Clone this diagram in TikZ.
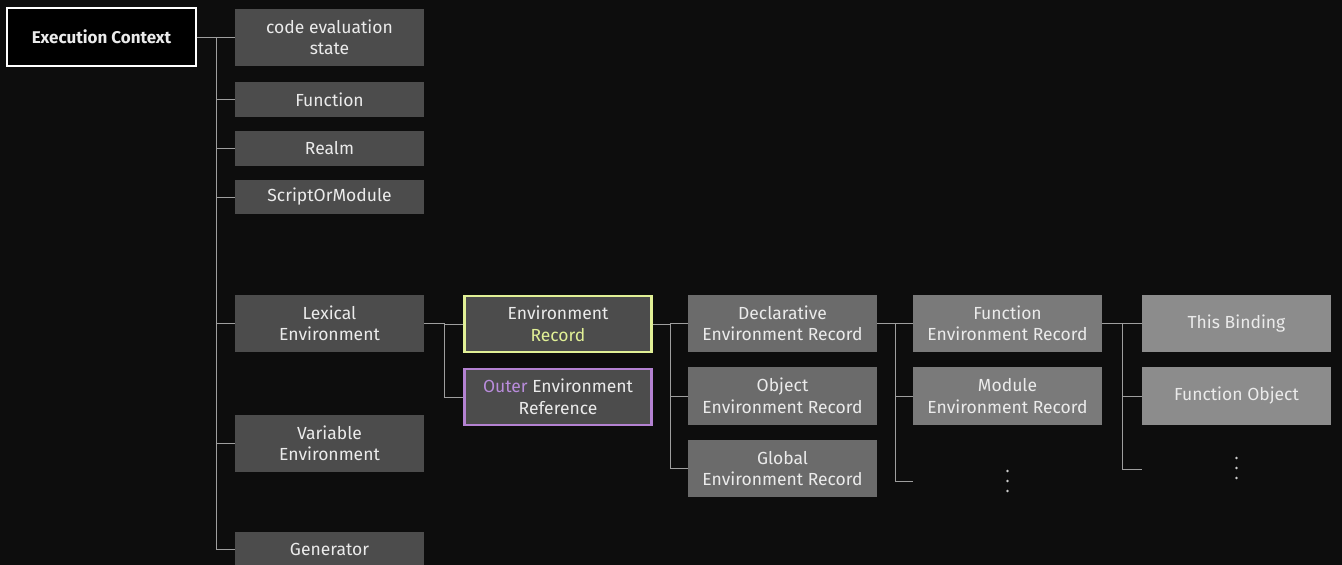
\documentclass[tikz,border=0pt]{standalone}
\usepackage{fontspec}
\setmainfont{Fira Sans}
\begin{document}
\begin{tikzpicture}[x=1pt,y=-1pt,
  bx/.style={minimum width=189pt,align=center,inner sep=0pt,font=\fontsize{17.5}{21.5}\selectfont,text=white!92!black},
  c1/.style={bx,fill=black!70},
  c3/.style={bx,fill=black!58},
  c4/.style={bx,fill=black!52},
  c5/.style={bx,fill=black!45},
  ln/.style={draw=black!38,line width=0.9pt},
  dt/.style={fill=white!80!black}]
\fill[black!95] (0,0) rectangle (1342,565);
\useasboundingbox (0,0) rectangle (1342,565);
\clip (0,0) rectangle (1342,565);
% column 0
\node[bx,draw=white,line width=1.2pt,fill=black,minimum width=189pt,minimum height=58pt,font=\fontsize{17}{21}\selectfont\bfseries] (ec) at (101.5,37) {Execution Context};
% column 1
\node[c1,minimum height=57pt] (ces) at (329.5,37.5) {code evaluation\\state};
\node[c1,minimum height=35pt] (fn) at (329.5,99.5) {Function};
\node[c1,minimum height=35pt] (realm) at (329.5,148.5) {Realm};
\node[c1,minimum height=34pt] (sm) at (329.5,197) {ScriptOrModule};
\node[c1,minimum height=57pt] (lex) at (329.5,323.5) {Lexical\\Environment};
\node[c1,minimum height=57pt] (var) at (329.5,443.5) {Variable\\Environment};
\node[c1,minimum height=34pt] (gen) at (329.5,549) {Generator};
\coordinate (t0) at (216,37);
\draw[ln] (ec.east) -- (t0) -- (216,549) -- (gen.west);
\foreach \n in {ces,fn,realm,sm,lex,var} \draw[ln] (216,0 |- \n.west) -- (\n.west);
% column 2
\node[c1,draw={rgb,255:red,225;green,240;blue,150},line width=2.2pt,minimum width=187pt,minimum height=56pt] (er) at (558,324) {Environment\\\textcolor[RGB]{225,240,150}{Record}};
\node[c1,draw={rgb,255:red,180;green,130;blue,210},line width=2.2pt,minimum width=187pt,minimum height=56pt] (oer) at (558,397) {\textcolor[RGB]{185,140,220}{Outer} Environment\\Reference};
\draw[ln] (lex.east) -- (444,0 |- lex.east) |- (oer.west);
\draw[ln] (444,0 |- er.west) -- (er.west);
% column 3
\node[c3,minimum height=57pt] (dec) at (782.5,323.5) {Declarative\\Environment Record};
\node[c3,minimum height=58pt] (obj) at (782.5,396) {Object\\Environment Record};
\node[c3,minimum height=57pt] (glo) at (782.5,468.5) {Global\\Environment Record};
\draw[ln] (er.east) -- (670,0 |- er.east) |- (glo.west);
\draw[ln] (670,0 |- dec.west) -- (dec.west);
\draw[ln] (670,0 |- obj.west) -- (obj.west);
% column 4
\node[c4,minimum height=57pt] (fer) at (1007.5,323.5) {Function\\Environment Record};
\node[c4,minimum height=58pt] (mer) at (1007.5,396) {Module\\Environment Record};
\foreach \y in {471,481,491} \fill[dt] (1007.5,\y) circle (1.3pt);
\coordinate (e4) at (913,481);
\draw[ln] (dec.east) -- (895,0 |- dec.east) |- (e4);
\draw[ln] (895,0 |- fer.west) -- (fer.west);
\draw[ln] (895,0 |- mer.west) -- (mer.west);
% column 5
\node[c5,minimum height=57pt] (tb) at (1236.5,323.5) {This Binding};
\node[c5,minimum height=58pt] (fo) at (1236.5,396) {Function Object};
\foreach \y in {458,468,478} \fill[dt] (1236.5,\y) circle (1.3pt);
\coordinate (e5) at (1142,469);
\draw[ln] (fer.east) -- (1122,0 |- fer.east) |- (e5);
\draw[ln] (1122,0 |- tb.west) -- (tb.west);
\draw[ln] (1122,0 |- fo.west) -- (fo.west);
\end{tikzpicture}
\end{document}
